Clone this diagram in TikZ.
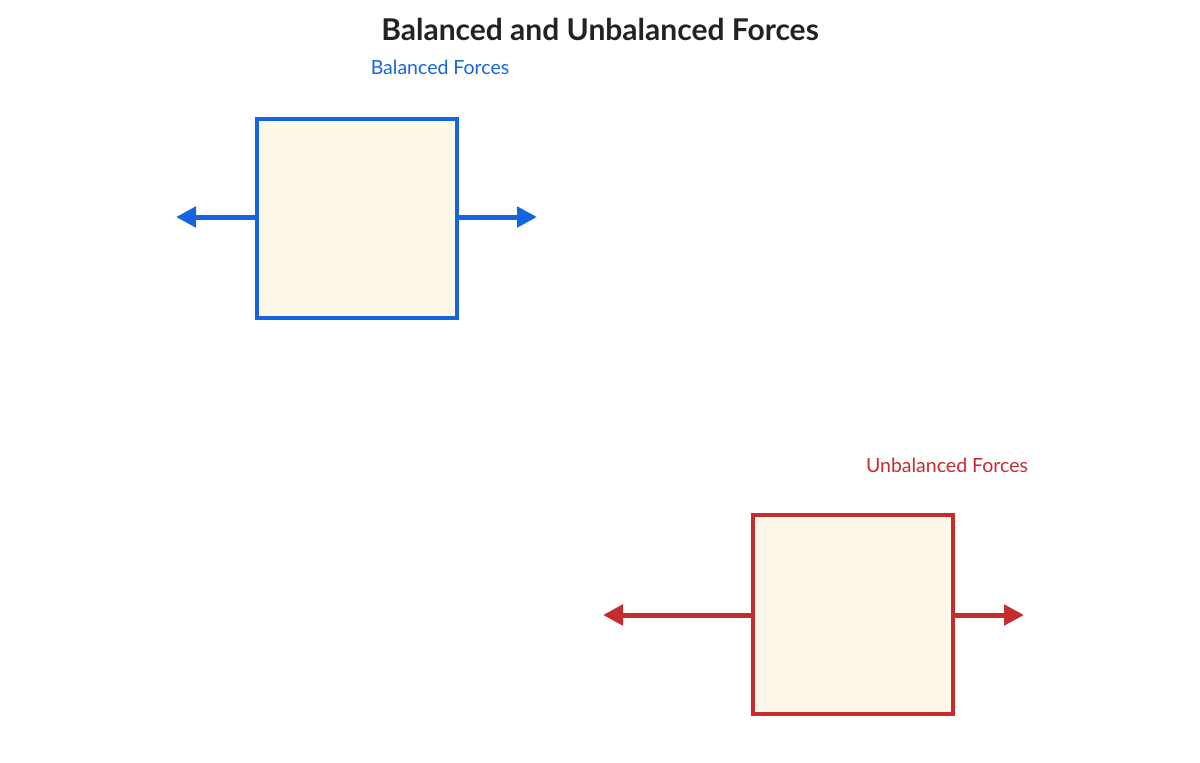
\documentclass[tikz,border=0pt]{standalone}
\usepackage{fontspec}
\setmainfont{Lato}
\usetikzlibrary{arrows.meta}
\definecolor{bl}{HTML}{1565E0}
\definecolor{rd}{HTML}{C62B2E}
\definecolor{fillc}{HTML}{FEF8E8}
\definecolor{tx}{HTML}{222222}
\tikzset{
 box/.style={line width=4pt, fill=fillc},
 force/.style={line width=5pt, -{Triangle[length=20pt,width=20pt]}},
}
\begin{document}
\begin{tikzpicture}[x=1pt,y=-1pt]
\useasboundingbox (0,0) rectangle (1200,763);
\node[text=tx,font=\bfseries\fontsize{30}{33}\selectfont] (title) at (600,29) {Balanced and Unbalanced Forces};
\node[text=bl,font=\fontsize{19.5}{22}\selectfont] (lb) at (440,67) {Balanced Forces};
\node[text=rd,font=\fontsize{19.5}{22}\selectfont] (lu) at (947,465) {Unbalanced Forces};
\draw[box,draw=bl] (257,119) rectangle (457,318);
\coordinate (bL) at (257,217); \coordinate (bR) at (457,217);
\coordinate (bLe) at (176,217); \coordinate (bRe) at (537,217);
\draw[force,draw=bl,fill=bl] (bL) -- (bLe);
\draw[force,draw=bl,fill=bl] (bR) -- (bRe);
\draw[box,draw=rd] (753,515) rectangle (953,714);
\coordinate (rL) at (753,615); \coordinate (rR) at (953,615);
\coordinate (rLe) at (603,615); \coordinate (rRe) at (1024,615);
\draw[force,draw=rd,fill=rd] (rL) -- (rLe);
\draw[force,draw=rd,fill=rd] (rR) -- (rRe);
\end{tikzpicture}
\end{document}
